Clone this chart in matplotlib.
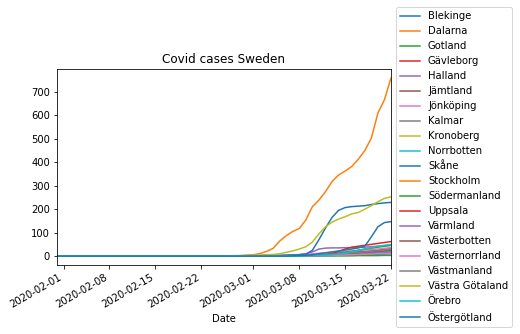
import matplotlib
matplotlib.use("Agg")
import matplotlib.pyplot as plt
import matplotlib.dates as mdates
import pandas as pd

# Cumulative confirmed cases per region, 2020-01-31 .. 2020-03-22
start_date = "2020-01-31"
end_date = "2020-03-22"

regions = ["Blekinge", "Dalarna", "Gotland", "Gävleborg", "Halland", "Jämtland",
           "Jönköping", "Kalmar", "Kronoberg", "Norrbotten", "Skåne", "Stockholm",
           "Södermanland", "Uppsala", "Värmland", "Västerbotten", "Västernorrland",
           "Västmanland", "Västra Götaland", "Örebro", "Östergötland"]

# first 30 values: Jan 31 - Feb 29, last 22 values: Mar 1 - Mar 22
blekinge = [0, 0, 0, 0, 0, 0, 0, 0, 0, 0, 0, 0, 0, 0, 0, 0, 0, 0, 0, 0, 0, 0, 0, 0, 0, 0, 0, 0, 0, 0,
            0, 0, 0, 0, 0, 0, 0, 0, 0, 1, 1, 2, 2, 3, 3, 4, 5, 6, 7, 8, 9, 10]
dalarna = [0, 0, 0, 0, 0, 0, 0, 0, 0, 0, 0, 0, 0, 0, 0, 0, 0, 0, 0, 0, 0, 0, 0, 0, 0, 0, 0, 0, 0, 0,
           0, 0, 0, 0, 0, 1, 1, 2, 2, 3, 4, 5, 6, 7, 8, 9, 10, 11, 12, 13, 14, 16]
gotland = [0, 0, 0, 0, 0, 0, 0, 0, 0, 0, 0, 0, 0, 0, 0, 0, 0, 0, 0, 0, 0, 0, 0, 0, 0, 0, 0, 0, 0, 0,
           0, 0, 0, 0, 0, 0, 0, 0, 0, 0, 0, 1, 1, 1, 1, 1, 2, 2, 2, 2, 3, 3]
gavleborg = [0, 0, 0, 0, 0, 0, 0, 0, 0, 0, 0, 0, 0, 0, 0, 0, 0, 0, 0, 0, 0, 0, 0, 0, 0, 0, 0, 0, 0, 0,
             0, 0, 0, 0, 0, 0, 1, 1, 2, 3, 4, 5, 6, 7, 8, 9, 10, 11, 12, 13, 14, 15]
halland = [0, 0, 0, 0, 0, 0, 0, 0, 0, 0, 0, 0, 0, 0, 0, 0, 0, 0, 0, 0, 0, 0, 0, 0, 0, 0, 0, 0, 0, 0,
           0, 0, 0, 0, 1, 2, 4, 6, 10, 18, 30, 34, 35, 35, 36, 36, 37, 38, 40, 42, 44, 46]
jamtland = [0, 0, 0, 0, 0, 0, 0, 0, 0, 0, 0, 0, 0, 0, 0, 0, 0, 0, 0, 0, 0, 0, 0, 0, 0, 0, 0, 0, 0, 0,
            0, 0, 0, 0, 0, 0, 0, 1, 2, 4, 6, 8, 10, 12, 14, 16, 18, 20, 22, 25, 28, 31]
jonkoping = [1, 1, 1, 1, 1, 1, 1, 1, 1, 1, 1, 1, 1, 1, 1, 1, 1, 1, 1, 1, 1, 1, 1, 1, 1, 1, 1, 1, 1, 1,
             1, 1, 1, 2, 3, 4, 5, 6, 8, 10, 12, 14, 16, 18, 20, 22, 24, 26, 28, 30, 33, 36]
kalmar = [0, 0, 0, 0, 0, 0, 0, 0, 0, 0, 0, 0, 0, 0, 0, 0, 0, 0, 0, 0, 0, 0, 0, 0, 0, 0, 0, 0, 0, 0,
          0, 0, 0, 0, 0, 0, 0, 1, 2, 3, 4, 5, 6, 8, 10, 11, 12, 14, 16, 18, 20, 22]
kronoberg = [0, 0, 0, 0, 0, 0, 0, 0, 0, 0, 0, 0, 0, 0, 0, 0, 0, 0, 0, 0, 0, 0, 0, 0, 0, 0, 0, 0, 0, 0,
             0, 0, 0, 0, 0, 0, 0, 0, 1, 2, 3, 4, 5, 6, 7, 8, 9, 10, 12, 14, 16, 18]
norrbotten = [0, 0, 0, 0, 0, 0, 0, 0, 0, 0, 0, 0, 0, 0, 0, 0, 0, 0, 0, 0, 0, 0, 0, 0, 0, 0, 0, 0, 0, 0,
              0, 0, 0, 0, 0, 0, 0, 0, 0, 1, 2, 3, 4, 5, 6, 8, 10, 12, 14, 16, 18, 20]
skane = [0, 0, 0, 0, 0, 0, 0, 0, 0, 0, 0, 0, 0, 0, 0, 0, 0, 0, 0, 0, 0, 0, 0, 0, 0, 0, 0, 0, 1, 1,
         1, 1, 2, 2, 3, 4, 5, 6, 8, 25, 70, 120, 165, 195, 207, 211, 213, 215, 220, 224, 227, 229]
stockholm = [0, 0, 0, 0, 0, 0, 0, 0, 0, 0, 0, 0, 0, 0, 0, 0, 0, 0, 0, 0, 0, 0, 0, 0, 0, 0, 1, 1, 2, 4,
             6, 11, 20, 33, 64, 87, 105, 118, 154, 211, 239, 275, 318, 346, 363, 382, 413, 450, 503, 610, 667, 760]
sodermanland = [0, 0, 0, 0, 0, 0, 0, 0, 0, 0, 0, 0, 0, 0, 0, 0, 0, 0, 0, 0, 0, 0, 0, 0, 0, 0, 0, 0, 0, 0,
                0, 0, 0, 0, 0, 0, 0, 0, 1, 2, 3, 5, 8, 12, 16, 20, 25, 30, 34, 38, 42, 46]
uppsala = [0, 0, 0, 0, 0, 0, 0, 0, 0, 0, 0, 0, 0, 0, 0, 0, 0, 0, 0, 0, 0, 0, 0, 0, 0, 0, 0, 0, 0, 0,
           0, 0, 0, 0, 0, 0, 1, 1, 1, 2, 4, 6, 10, 20, 30, 38, 42, 46, 50, 54, 58, 62]
varmland = [0, 0, 0, 0, 0, 0, 0, 0, 0, 0, 0, 0, 0, 0, 0, 0, 0, 0, 0, 0, 0, 0, 0, 0, 0, 0, 0, 0, 0, 0,
            0, 0, 0, 0, 0, 0, 0, 1, 1, 2, 3, 4, 5, 6, 7, 8, 9, 10, 11, 12, 14, 15]
vasterbotten = [0, 0, 0, 0, 0, 0, 0, 0, 0, 0, 0, 0, 0, 0, 0, 0, 0, 0, 0, 0, 0, 0, 0, 0, 0, 0, 0, 0, 0, 0,
                0, 0, 0, 0, 0, 0, 0, 0, 1, 2, 3, 4, 6, 8, 10, 12, 14, 16, 18, 20, 22, 25]
vasternorrland = [0, 0, 0, 0, 0, 0, 0, 0, 0, 0, 0, 0, 0, 0, 0, 0, 0, 0, 0, 0, 0, 0, 0, 0, 0, 0, 0, 0, 0, 0,
                  0, 0, 0, 0, 0, 0, 0, 0, 0, 1, 1, 2, 3, 4, 5, 6, 7, 8, 9, 10, 11, 12]
vastmanland = [0, 0, 0, 0, 0, 0, 0, 0, 0, 0, 0, 0, 0, 0, 0, 0, 0, 0, 0, 0, 0, 0, 0, 0, 0, 0, 0, 0, 0, 0,
               0, 0, 0, 0, 0, 0, 0, 1, 2, 3, 4, 6, 8, 10, 12, 14, 16, 18, 20, 23, 26, 29]
vastra_gotaland = [0, 0, 0, 0, 0, 0, 0, 0, 0, 0, 0, 0, 0, 0, 0, 0, 0, 0, 0, 0, 0, 0, 0, 0, 0, 0, 1, 2, 2, 3,
                   4, 5, 6, 7, 10, 16, 22, 30, 40, 60, 95, 125, 145, 158, 168, 180, 186, 200, 215, 232, 246, 253]
orebro = [0, 0, 0, 0, 0, 0, 0, 0, 0, 0, 0, 0, 0, 0, 0, 0, 0, 0, 0, 0, 0, 0, 0, 0, 0, 0, 0, 0, 0, 0,
          0, 0, 0, 0, 0, 0, 0, 0, 1, 1, 2, 3, 5, 8, 12, 18, 24, 30, 36, 42, 46, 50]
ostergotland = [0, 0, 0, 0, 0, 0, 0, 0, 0, 0, 0, 0, 0, 0, 0, 0, 0, 0, 0, 0, 0, 0, 0, 0, 0, 0, 0, 0, 0, 0,
                0, 0, 0, 0, 0, 0, 1, 2, 3, 5, 10, 14, 18, 22, 26, 30, 35, 42, 82, 125, 143, 147]

series = [blekinge, dalarna, gotland, gavleborg, halland, jamtland, jonkoping, kalmar,
          kronoberg, norrbotten, skane, stockholm, sodermanland, uppsala, varmland,
          vasterbotten, vasternorrland, vastmanland, vastra_gotaland, orebro, ostergotland]

dates = pd.date_range(start_date, end_date)
df = pd.DataFrame(dict(zip(regions, series)), index=dates)

W, H = 520, 334
fig = plt.figure(figsize=(W / 72, H / 72), dpi=72)
ax = fig.add_axes([57 / W, (H - 265) / H, (391 - 57) / W, (265 - 69) / H])

for name in regions:
    ax.plot(df.index, df[name], label=name)

ax.set_xlim(dates[0], dates[-1])
ax.xaxis.set_major_locator(mdates.DayLocator(bymonthday=[1, 8, 15, 22]))
ax.xaxis.set_major_formatter(mdates.DateFormatter("%Y-%m-%d"))
for lbl in ax.get_xticklabels():
    lbl.set_rotation(30)
    lbl.set_ha("right")

ax.set_title("Covid cases Sweden")
ax.set_xlabel("Date")
ax.legend(loc="center left", bbox_to_anchor=(1, 0.5))

fig.savefig("out.png", dpi=72)
